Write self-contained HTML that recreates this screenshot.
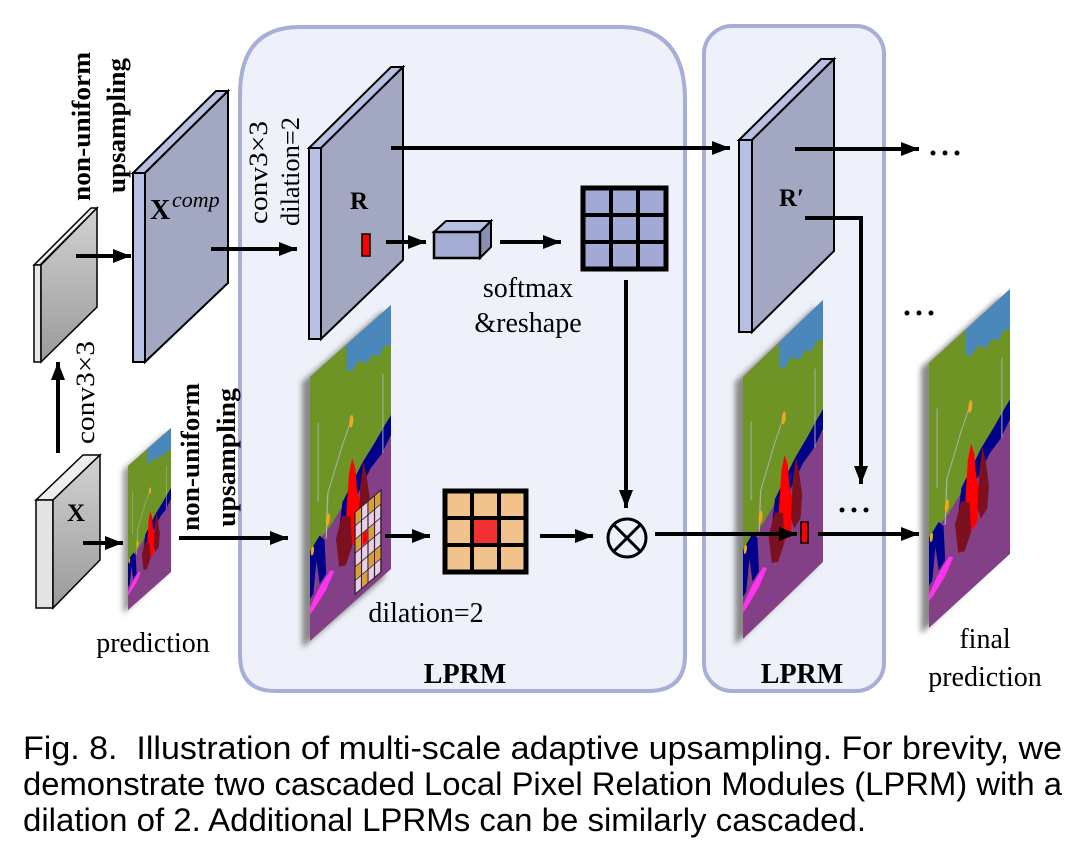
<!DOCTYPE html>
<html><head><meta charset="utf-8"><style>
html,body{margin:0;padding:0;background:#fff;}
svg{display:block;}
.sb{font-family:"Liberation Serif",serif;font-weight:bold;}
.sr{font-family:"Liberation Serif",serif;}
</style></head><body>
<svg width="1080" height="851" viewBox="0 0 1080 851" xmlns="http://www.w3.org/2000/svg">
<defs>
<marker id="a2" viewBox="0 0 10 10" refX="10" refY="5" markerWidth="18" markerHeight="14" orient="auto" markerUnits="userSpaceOnUse" preserveAspectRatio="none">
<path d="M0,0 L10,5 L0,10 z" fill="#000"/>
</marker>
<linearGradient id="gg" x1="0" y1="0" x2="0" y2="1"><stop offset="0" stop-color="#d2d2d2"/><stop offset="1" stop-color="#9a9a9a"/></linearGradient>
<filter id="sh" x="-20%" y="-10%" width="140%" height="120%"><feGaussianBlur stdDeviation="3"/></filter>
<g id="seg">
<rect x="0" y="0" width="100" height="300" fill="#844086"/>
<path d="M0,0 H100 V150 L85,155 70,165 55,170 40,180 25,190 10,195 0,200 z" fill="#6f9426"/>
<path d="M45,0 H100 V45 L92,40 85,46 78,38 70,42 60,30 52,36 45,28 z" fill="#4a87bb"/>
<path d="M40,175 L55,160 65,150 80,140 90,132 100,125 V148 L88,160 75,165 60,180 45,200 35,210 z" fill="#00008b"/>
<path d="M0,198 L12,190 18,200 20,240 12,245 8,215 4,250 0,252 z" fill="#00008b"/>
<path d="M45,190 L48,150 52,135 56,150 58,175 62,195 60,230 50,235 44,215 z" fill="#ff0000"/>
<path d="M32,210 L40,190 50,200 52,235 44,250 36,245 z" fill="#7b1120"/>
<path d="M62,175 L66,150 70,170 74,200 72,225 64,230 60,215 z" fill="#7b1120"/>
<path d="M0,262 L10,250 25,240 30,245 20,258 5,268 0,270 z" fill="#ff33ee"/>
<path d="M20,200 L22,150 40,110 50,92" stroke="#b0b0b0" stroke-width="1.6" fill="none"/>
<path d="M10,60 V150 M90,70 V160" stroke="#b0b0b0" stroke-width="1.2" fill="none"/>
<ellipse cx="51" cy="92" rx="2.5" ry="7" fill="#f0a820"/>
<ellipse cx="22" cy="180" rx="2.5" ry="7" fill="#f0a820"/>
<ellipse cx="3" cy="200" rx="2" ry="5" fill="#f0a820"/>
</g>
</defs>

<!-- LPRM boxes -->
<path d="M300,27 H620 Q685,27 685,100 V655 Q685,691 648,691 H275 Q240,691 240,655 V95 Q240,27 300,27 z" fill="#eef1f9" stroke="#a7afd8" stroke-width="4"/>
<rect x="704" y="26" width="180" height="665" rx="28" fill="#eef1f9" stroke="#a7afd8" stroke-width="4"/>

<!-- small gray slab -->
<polygon points="34,265 40,265 97,208 91,208" fill="#eeeeee" stroke="#000" stroke-width="1.5"/>
<polygon points="34,265 41,265 41,362 34,362" fill="#e8e8e8" stroke="#000" stroke-width="1.5"/>
<polygon points="41,265 97,208 97,307 41,362" fill="url(#gg)" stroke="#000" stroke-width="1.5"/>

<!-- Xcomp slab -->
<polygon points="133,173 145,173 228,91 216,91" fill="#b7bfe2" stroke="#000" stroke-width="2"/>
<polygon points="133,173 145,173 145,362 133,362" fill="#b7bfe2" stroke="#000" stroke-width="2"/>
<polygon points="145,173 228,91 228,283 145,362" fill="#a2a8c2" stroke="#000" stroke-width="2"/>
<text class="sb" x="150" y="219" font-size="28">X</text>
<text class="sr" x="172" y="207" font-size="22" font-style="italic">comp</text>

<!-- R slab -->
<polygon points="309,148 321,148 403,67 391,67" fill="#b7bfe2" stroke="#000" stroke-width="2"/>
<polygon points="309,148 321,148 321,339 309,339" fill="#b7bfe2" stroke="#000" stroke-width="2"/>
<polygon points="321,148 403,67 403,260 321,339" fill="#a2a8c2" stroke="#000" stroke-width="2"/>
<text class="sb" x="350" y="209" font-size="25">R</text>
<rect x="362" y="234" width="8" height="22" fill="#f00" stroke="#000" stroke-width="1.5"/>

<!-- R' slab -->
<polygon points="739,140 752,140 834,59 821,59" fill="#b7bfe2" stroke="#000" stroke-width="2"/>
<polygon points="739,140 752,140 752,332 739,332" fill="#b7bfe2" stroke="#000" stroke-width="2"/>
<polygon points="752,140 834,59 834,251 752,332" fill="#a2a8c2" stroke="#000" stroke-width="2"/>
<text class="sb" x="779" y="206" font-size="25">R′</text>

<!-- X slab -->
<polygon points="36,500 53,500 100,455 83,455" fill="#eeeeee" stroke="#000" stroke-width="1.5"/>
<polygon points="36,500 53,500 53,608 36,608" fill="#e4e4e4" stroke="#000" stroke-width="1.5"/>
<polygon points="53,500 100,455 100,560 53,608" fill="url(#gg)" stroke="#000" stroke-width="1.5"/>
<text class="sb" x="67" y="521" font-size="25">X</text>

<!-- cube -->
<polygon points="434,232 446,221 491,221 480,232" fill="#b7bfe2" stroke="#000" stroke-width="2"/>
<polygon points="480,232 491,221 491,247 480,258" fill="#8a90b0" stroke="#000" stroke-width="2"/>
<rect x="434" y="232" width="46" height="26" fill="#a4acd4" stroke="#000" stroke-width="2.5"/>

<!-- blue grid -->
<rect x="583" y="188" width="83" height="81" fill="#a1a9d4" stroke="#000" stroke-width="5"/>
<path d="M611,188 V269 M638,188 V269 M583,215 H666 M583,242 H666" stroke="#000" stroke-width="4"/>

<!-- orange grid -->
<rect x="445" y="491" width="81" height="81" fill="#f2c28c" stroke="#000" stroke-width="5"/>
<rect x="472" y="518" width="27" height="27" fill="#f03030"/>
<path d="M472,491 V572 M499,491 V572 M445,518 H526 M445,545 H526" stroke="#000" stroke-width="4"/>

<!-- otimes -->
<ellipse cx="627" cy="538" rx="19" ry="19" fill="none" stroke="#000" stroke-width="3"/>
<path d="M614,525 L640,551 M640,525 L614,551" stroke="#000" stroke-width="3"/>

<!-- segmentation images -->
<polygon points="123,470 167,432 167,572 123,614" fill="#999" filter="url(#sh)"/>
<g transform="matrix(0.43,-0.38,0,0.48,128,466)"><use href="#seg"/></g>
<polygon points="302,382 384,310 384,578 302,648" fill="#888" filter="url(#sh)"/>
<g transform="matrix(0.81,-0.72,0,0.88,310,377)"><use href="#seg"/></g>
<!-- grid overlay -->
<g transform="matrix(1,-0.85,0,1,0,0)">
<g transform="translate(355,814)">
<rect x="0" y="0" width="26" height="82" fill="#e8d0e4" stroke="#3a2030" stroke-width="1.5"/>
<path d="M6.5,0 V82 M13,0 V82 M19.5,0 V82 M0,13.7 H26 M0,27.3 H26 M0,41 H26 M0,54.7 H26 M0,68.3 H26" stroke="#3a2030" stroke-width="1.2"/>
<rect x="0.8" y="0.8" width="5" height="12" fill="#d9a030"/><rect x="13.8" y="0.8" width="5" height="12" fill="#d9a030"/>
<rect x="0.8" y="28" width="5" height="12" fill="#d9a030"/><rect x="13.8" y="28" width="5" height="12" fill="#d9a030"/>
<rect x="0.8" y="55.4" width="5" height="12" fill="#d9a030"/><rect x="13.8" y="55.4" width="5" height="12" fill="#d9a030"/>
<rect x="7.3" y="28" width="5" height="12" fill="#f00"/>
<rect x="20.3" y="0.8" width="5" height="12" fill="#d9a030"/><rect x="20.3" y="55.4" width="5" height="12" fill="#d9a030"/><rect x="7.3" y="69" width="5" height="12" fill="#d9a030"/>
</g></g>
<polygon points="735,382 816,306 816,566 735,645" fill="#888" filter="url(#sh)"/>
<g transform="matrix(0.80,-0.77,0,0.873,743,377)"><use href="#seg"/></g>
<rect x="801" y="522" width="7" height="21" fill="#f00" stroke="#000" stroke-width="1.5"/>
<polygon points="921,368 1002,295 1002,555 921,634" fill="#888" filter="url(#sh)"/>
<g transform="matrix(0.81,-0.74,0,0.883,929,363)"><use href="#seg"/></g>

<!-- arrows -->
<g stroke="#000" stroke-width="4" fill="none">
<line x1="76" y1="256" x2="131" y2="256" marker-end="url(#a2)"/>
<line x1="211" y1="249" x2="297" y2="249" marker-end="url(#a2)"/>
<line x1="386" y1="242" x2="426" y2="242" marker-end="url(#a2)"/>
<line x1="500" y1="242" x2="561" y2="242" marker-end="url(#a2)"/>
<line x1="391" y1="148" x2="730" y2="148" marker-end="url(#a2)"/>
<line x1="795" y1="149" x2="919" y2="149" marker-end="url(#a2)"/>
<polyline points="805,218 861,218 861,484" marker-end="url(#a2)"/>
<line x1="626" y1="280" x2="626" y2="508" marker-end="url(#a2)"/>
<line x1="58" y1="453" x2="58" y2="362" marker-end="url(#a2)"/>
<line x1="83" y1="543" x2="123" y2="543" marker-end="url(#a2)"/>
<line x1="179" y1="538" x2="288" y2="538" marker-end="url(#a2)"/>
<line x1="385" y1="536" x2="430" y2="536" marker-end="url(#a2)"/>
<line x1="540" y1="536" x2="593" y2="536" marker-end="url(#a2)"/>
<line x1="655" y1="534" x2="797" y2="534" marker-end="url(#a2)"/>
<line x1="818" y1="534" x2="919" y2="534" marker-end="url(#a2)"/>
</g>

<!-- dots -->
<g fill="#000">
<circle cx="933" cy="153" r="2.5"/><circle cx="945" cy="153" r="2.5"/><circle cx="957" cy="153" r="2.5"/>
<circle cx="907" cy="313" r="2.5"/><circle cx="919" cy="313" r="2.5"/><circle cx="931" cy="313" r="2.5"/>
<circle cx="842" cy="510" r="2.5"/><circle cx="854" cy="510" r="2.5"/><circle cx="866" cy="510" r="2.5"/>
</g>

<!-- rotated labels -->
<text class="sb" font-size="26" transform="translate(90,201) rotate(-90)" textLength="149" lengthAdjust="spacingAndGlyphs">non-uniform</text>
<text class="sb" font-size="26" transform="translate(125,193) rotate(-90)" textLength="135" lengthAdjust="spacingAndGlyphs">upsampling</text>
<text class="sb" font-size="26" transform="translate(199,531) rotate(-90)" textLength="148" lengthAdjust="spacingAndGlyphs">non-uniform</text>
<text class="sb" font-size="26" transform="translate(235,527) rotate(-90)" textLength="139" lengthAdjust="spacingAndGlyphs">upsampling</text>
<text class="sr" font-size="26" transform="translate(267,224) rotate(-90)" textLength="103" lengthAdjust="spacingAndGlyphs">conv3×3</text>
<text class="sr" font-size="26" transform="translate(299,226) rotate(-90)" textLength="109" lengthAdjust="spacingAndGlyphs">dilation=2</text>
<text class="sr" font-size="26" transform="translate(94,444) rotate(-90)" textLength="103" lengthAdjust="spacingAndGlyphs">conv3×3</text>

<!-- horizontal labels -->
<text class="sr" font-size="28" x="528" y="297" text-anchor="middle">softmax</text>
<text class="sr" font-size="28" x="528" y="332" text-anchor="middle">&amp;reshape</text>
<text class="sr" font-size="28" x="426" y="622" text-anchor="middle">dilation=2</text>
<text class="sr" font-size="28" x="153" y="652" text-anchor="middle">prediction</text>
<text class="sb" font-size="28" x="465" y="683" text-anchor="middle">LPRM</text>
<text class="sb" font-size="28" x="802" y="683" text-anchor="middle">LPRM</text>
<text class="sr" font-size="28" x="985" y="648" text-anchor="middle">final</text>
<text class="sr" font-size="28" x="985" y="686" text-anchor="middle">prediction</text>

<!-- caption -->
<g font-family="'Liberation Sans',sans-serif" font-size="32" fill="#000">
<text x="23" y="759" textLength="1039" lengthAdjust="spacingAndGlyphs" xml:space="preserve">Fig. 8.  Illustration of multi-scale adaptive upsampling. For brevity, we</text>
<text x="23" y="795" textLength="1039" lengthAdjust="spacingAndGlyphs">demonstrate two cascaded Local Pixel Relation Modules (LPRM) with a</text>
<text x="23" y="831" textLength="843" lengthAdjust="spacingAndGlyphs">dilation of 2. Additional LPRMs can be similarly cascaded.</text>
</g>
</svg>
</body></html>
